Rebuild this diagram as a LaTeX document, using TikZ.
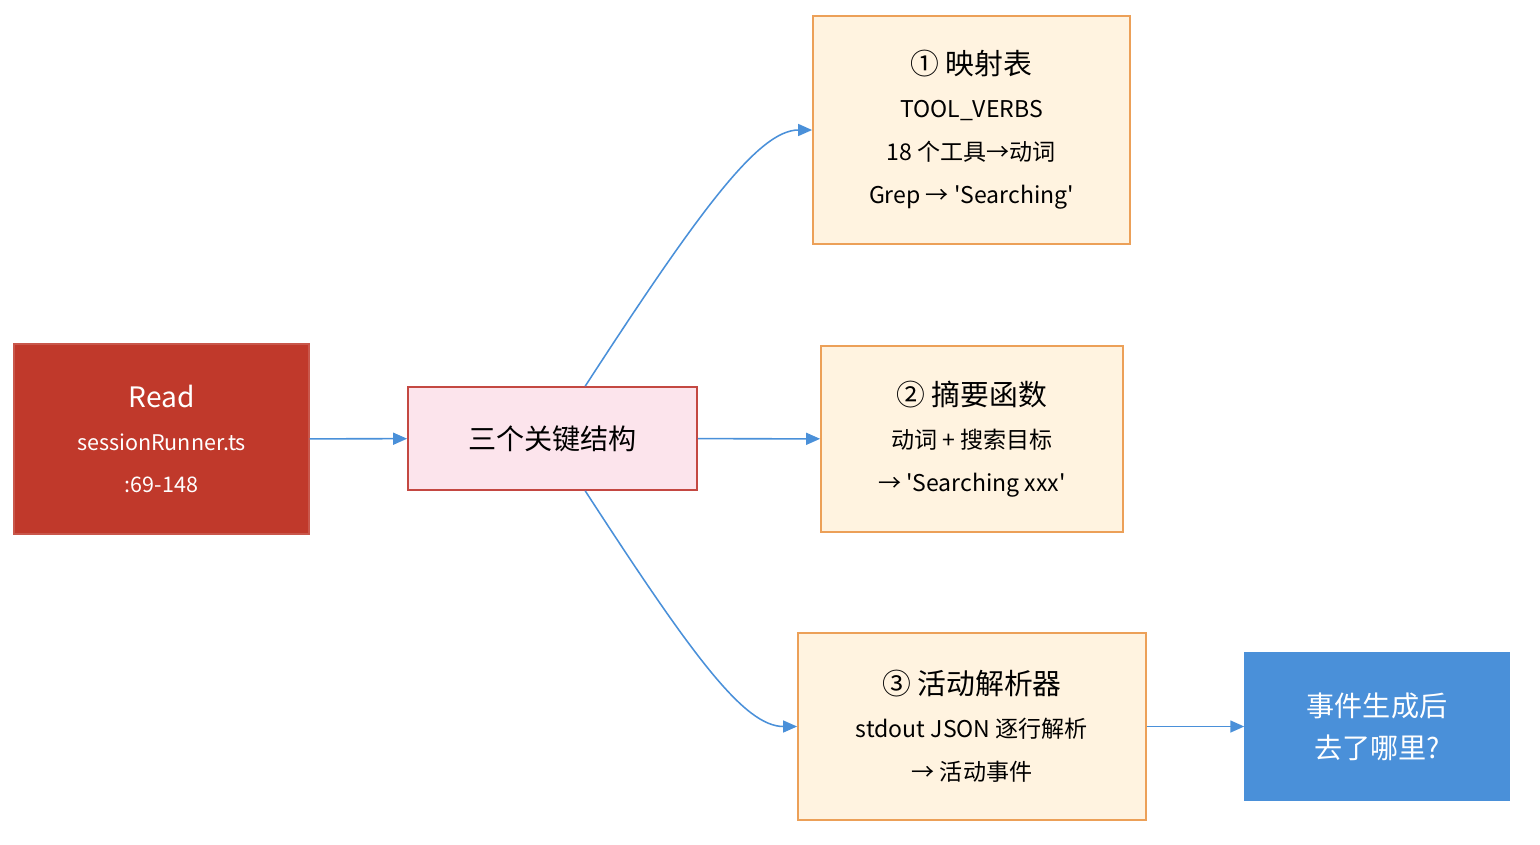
\documentclass[tikz,border=0pt]{standalone}
\usepackage{fontspec}
\setmainfont{Noto Sans CJK SC}
\newfontfamily\plainfont{Noto Sans CJK SC}
\usetikzlibrary{arrows.meta,positioning}
\definecolor{readred}{RGB}{192,57,43}
\definecolor{midpink}{RGB}{252,228,236}
\definecolor{midline}{RGB}{196,72,66}
\definecolor{boxfill}{RGB}{255,243,224}
\definecolor{boxline}{RGB}{236,160,88}
\definecolor{flowblue}{RGB}{74,144,217}
\newcommand{\apos}{{\plainfont\symbol{39}}}

\begin{document}
\begin{tikzpicture}[
    x=0.025cm, y=-0.025cm,
    src/.style={draw=readred!85!white, fill=readred, text=white, line width=1pt, align=center, font=\fontsize{15.3}{30.5}\selectfont},
    hub/.style={draw=midline, fill=midpink, line width=1.2pt, align=center, font=\fontsize{20}{26}\selectfont},
    part/.style={draw=boxline, fill=boxfill, line width=1.2pt, align=center, font=\fontsize{16.4}{30.5}\selectfont},
    next/.style={draw=flowblue, fill=flowblue, text=white, line width=1pt, align=center, font=\fontsize{20}{30}\selectfont},
    arr/.style={-{Triangle[length=0.35cm, width=0.3cm]}, draw=flowblue, line width=1.1pt}
]
\useasboundingbox (0,0) rectangle (1540,844);

\node[src, minimum width=7.375cm, minimum height=4.75cm] (read) at (161.5,439)
    {{\fontsize{20}{30.5}\selectfont Read}\\sessionRunner.ts\\:69-148};
\node[hub, minimum width=7.225cm, minimum height=2.575cm] (mid) at (552.5,438.5) {三个关键结构};

\node[part, minimum width=7.925cm, minimum height=5.7cm] (map) at (971.5,130)
    {{\fontsize{20.5}{30.5}\selectfont ① 映射表}\\TOOL\_VERBS\\18 个工具→动词\\Grep → \apos Searching\apos};
\node[part, minimum width=7.55cm, minimum height=4.65cm] (sum) at (972,439)
    {{\fontsize{20.5}{30.5}\selectfont ② 摘要函数}\\动词 + 搜索目标\\→ \apos Searching xxx\apos};
\node[part, minimum width=8.7cm, minimum height=4.675cm] (parse) at (972,726.5)
    {{\fontsize{20.5}{30.5}\selectfont ③ 活动解析器}\\stdout JSON 逐行解析\\→ 活动事件};

\node[next, minimum width=6.6cm, minimum height=3.675cm] (where) at (1377,726.5)
    {事件生成后\\去了哪里?};

\draw[arr] (read) -- (mid);
\draw[arr] (mid.58) .. controls +(57:5.3cm) and +(-53,0) .. (map.west);
\draw[arr] (mid) -- (sum);
\draw[arr] (mid.-58) .. controls +(-57:4.9cm) and +(-53,0) .. (parse.west);
\draw[arr] (parse) -- (where);
\end{tikzpicture}
\end{document}
